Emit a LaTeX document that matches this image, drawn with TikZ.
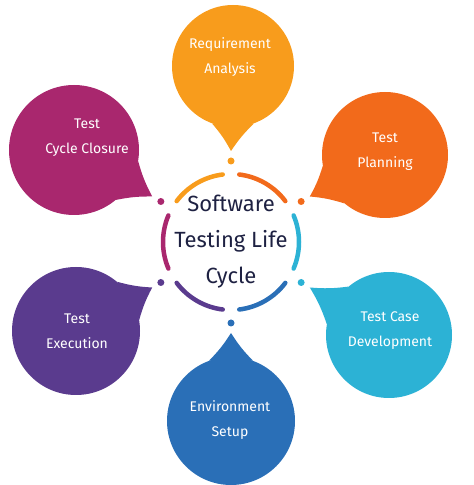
\documentclass[tikz,border=0pt]{standalone}
\usepackage{fontspec}
\setmainfont{Fira Sans}
\usetikzlibrary{calc}
\definecolor{reqcol}{HTML}{F89C1C}
\definecolor{plancol}{HTML}{F26A1B}
\definecolor{casecol}{HTML}{2CB2D5}
\definecolor{envcol}{HTML}{2A6FB7}
\definecolor{execcol}{HTML}{5A3B8E}
\definecolor{closecol}{HTML}{A9276E}
\definecolor{hubtext}{HTML}{1E2142}
\tikzset{
  bubble/.style={circle,inner sep=0pt},
  bubtext/.style={text=white,align=center,font=\fontsize{14}{25}\selectfont},
  hubnode/.style={align=center,text=hubtext,font=\fontsize{22}{36}\selectfont},
  ring/.style={line width=4.5pt,line cap=round},
}

\begin{document}
\begin{tikzpicture}[x=1pt,y=1pt]
  \useasboundingbox (0,0) rectangle (474,485);
  \node[hubnode] (hub) at (231,243) {Software\\Testing Life\\Cycle};
  % ring around the hub
  \draw[ring,plancol] ($(hub)+(37:68)$) arc (37:83:68);
  \draw[ring,reqcol] ($(hub)+(97:68)$) arc (97:143:68);
  \draw[ring,closecol] ($(hub)+(157:68)$) arc (157:203:68);
  \draw[ring,execcol] ($(hub)+(217:68)$) arc (217:263:68);
  \draw[ring,envcol] ($(hub)+(277:68)$) arc (277:323:68);
  \draw[ring,casecol] ($(hub)+(337:68)$) arc (337:383:68);
  % dots and tips
  \coordinate (reqdot) at ($(hub)+(90:81)$);
  \coordinate (plandot) at ($(hub)+(30:81)$);
  \coordinate (casedot) at ($(hub)+(-30:81)$);
  \coordinate (envdot) at ($(hub)+(-90:81)$);
  \coordinate (execdot) at ($(hub)+(210:81)$);
  \coordinate (closedot) at ($(hub)+(150:81)$);
  \coordinate (reqtip) at ($(hub)+(90:91)$);
  \coordinate (plantip) at ($(hub)+(30:91)$);
  \coordinate (casetip) at ($(hub)+(-30:91)$);
  \coordinate (envtip) at ($(hub)+(-90:91)$);
  \coordinate (exectip) at ($(hub)+(210:91)$);
  \coordinate (closetip) at ($(hub)+(150:91)$);
  \fill[reqcol] (reqdot) circle (3.5);
  \fill[plancol] (plandot) circle (3.5);
  \fill[casecol] (casedot) circle (3.5);
  \fill[envcol] (envdot) circle (3.5);
  \fill[execcol] (execdot) circle (3.5);
  \fill[closecol] (closedot) circle (3.5);
  % bubbles
  \node[bubble,fill=reqcol,minimum size=122pt] (req) at (233,419) {};
  \node[bubble,fill=plancol,minimum size=126pt] (plan) at (385,330) {};
  \node[bubble,fill=casecol,minimum size=126pt] (case) at (389,150) {};
  \node[bubble,fill=envcol,minimum size=128pt] (env) at (231,64) {};
  \node[bubble,fill=execcol,minimum size=128pt] (exec) at (76,154) {};
  \node[bubble,fill=closecol,minimum size=130pt] (close) at (74,335) {};
  \fill[reqcol] (req.-70) to[bend right=6] (reqtip) to[bend right=6] (req.-110) -- cycle;
  \fill[plancol] (plan.230) to[bend right=6] (plantip) to[bend right=6] (plan.190) -- cycle;
  \fill[casecol] (case.170) to[bend right=6] (casetip) to[bend right=6] (case.130) -- cycle;
  \fill[envcol] (env.110) to[bend right=6] (envtip) to[bend right=6] (env.70) -- cycle;
  \fill[execcol] (exec.50) to[bend right=6] (exectip) to[bend right=6] (exec.10) -- cycle;
  \fill[closecol] (close.-10) to[bend right=6] (closetip) to[bend right=6] (close.-50) -- cycle;
  % labels
  \node[bubtext] (reqlabel) at (230,428) {Requirement\\Analysis};
  \node[bubtext] (planlabel) at (385,333) {Test\\Planning};
  \node[bubtext] (caselabel) at (390,154) {Test Case\\Development};
  \node[bubtext] (envlabel) at (230,65) {Environment\\Setup};
  \node[bubtext] (execlabel) at (77,154) {Test\\Execution};
  \node[bubtext] (closelabel) at (87,347) {Test\\Cycle Closure};
\end{tikzpicture}
\end{document}
